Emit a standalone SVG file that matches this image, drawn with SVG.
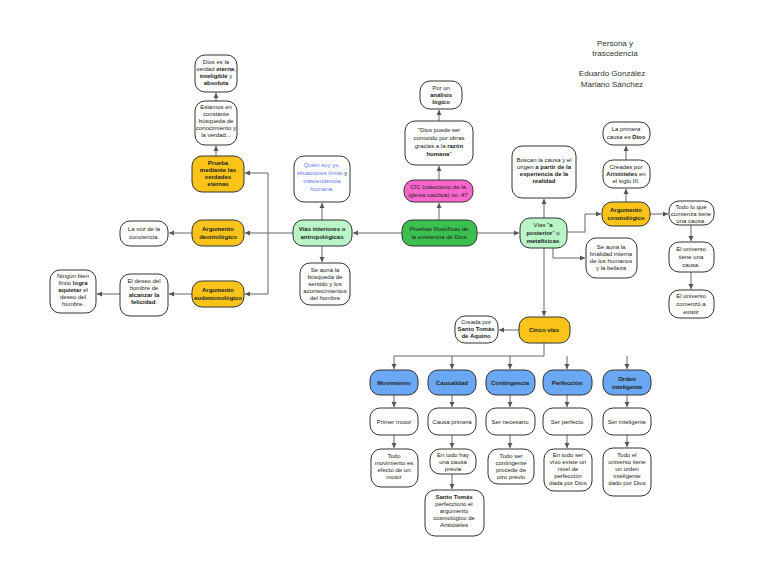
<svg xmlns="http://www.w3.org/2000/svg" width="768" height="585" viewBox="0 0 768 585">
<defs>
<marker id="a" markerWidth="6" markerHeight="6" refX="5" refY="3" orient="auto" markerUnits="userSpaceOnUse"><path d="M0,0.5 L5,3 L0,5.5 z" fill="#555"/></marker>
</defs>
<style>
rect{stroke:#333;stroke-width:1;fill:#fff}
.y{fill:#fcc419}.g{fill:#3bbf4e}.lg{fill:#b9f5c6}.m{fill:#ff66cc}.b{fill:#6aa7f5}
text{font-family:"Liberation Sans",Arial,sans-serif;font-size:6px;fill:#222;text-anchor:middle}
.bd{font-weight:bold}.bl{fill:#5a7cf0}.t{font-size:8px;fill:#333}
#c path{fill:none;stroke:#666;stroke-width:1;marker-end:url(#a)}
</style>
<rect width="768" height="585" style="fill:#fff;stroke:none"/>
<g id="title"><text class="t" x="615" y="46">Persona y</text><text class="t" x="615" y="56">trascedencia</text><text class="t" x="612" y="76">Eduardo González</text><text class="t" x="612" y="87">Mariano Sánchez</text></g>
<g id="c">
<path d="M402,233 H353"/><path d="M477,233 H519"/><path d="M439,220 V203"/><path d="M439,180 V166"/><path d="M439,121 V110"/>
<path d="M322,220 V203"/><path d="M322,246 V262"/><path d="M293,233 H245"/>
<path d="M268,233 V173 H245"/><path d="M268,233 V294 H245"/>
<path d="M216,156 V146"/><path d="M216,101 V93"/><path d="M192,233 H169"/><path d="M192,294 H169"/><path d="M120,294 H97"/>
<path d="M544,218 V199"/><path d="M567,232 H585 V214 H601"/><path d="M553,248 V258 H585"/><path d="M544,248 V316"/>
<path d="M626,202 V189"/><path d="M626,160 V146"/><path d="M650,214 H668"/><path d="M691,225 V241"/><path d="M691,272 V289"/>
<path d="M519,330 H499"/>
<path d="M544,343 V356 H394 V369"/><path d="M452,356 V369"/><path d="M510,356 V369"/><path d="M567,356 V369"/><path d="M627,356 V369"/>
<path d="M394,395 V407"/><path d="M452,395 V407"/><path d="M510,395 V407"/><path d="M567,395 V407"/><path d="M627,395 V407"/>
<path d="M394,435 V448"/><path d="M452,435 V448"/><path d="M510,435 V448"/><path d="M567,435 V448"/><path d="M627,435 V447"/>
<path d="M452,474 V489"/>
</g>
<g id="n1"><rect x="195" y="55" width="42" height="37" rx="10"/><text x="216" y="64">Dios es la</text><text x="216" y="71">verdad <tspan class="bd">eterna</tspan>,</text><text x="216" y="78" class="bd">inteligible <tspan style="font-weight:normal">y</tspan></text><text x="216" y="85" class="bd">absoluta</text></g>
<g id="n2"><rect x="195" y="101" width="42" height="44" rx="10"/><text x="216" y="109">Estamos en</text><text x="216" y="116">constante</text><text x="216" y="123">búsqueda de</text><text x="216" y="130">conocimiento y</text><text x="216" y="137">la verdad...</text></g>
<g id="n3"><rect class="y" x="192" y="156" width="52" height="36" rx="10"/><text class="bd" x="218" y="165">Prueba</text><text class="bd" x="218" y="172">mediante las</text><text class="bd" x="218" y="179">verdades</text><text class="bd" x="218" y="186">eternas</text></g>
<g id="n4"><rect x="120" y="221" width="48" height="25" rx="10"/><text x="144" y="231">La voz de la</text><text x="144" y="239">conciencia.</text></g>
<g id="n5"><rect class="y" x="192" y="220" width="52" height="26" rx="10"/><text class="bd" x="218" y="231">Argumento</text><text class="bd" x="218" y="239">deontológico</text></g>
<g id="n6"><rect x="50" y="270" width="46" height="43" rx="10"/><text x="73" y="278">Ningún bien</text><text x="73" y="285">finito <tspan class="bd">logra</tspan></text><text x="73" y="292"><tspan class="bd">aquietar</tspan> el</text><text x="73" y="299">deseo del</text><text x="73" y="306">hombre.</text></g>
<g id="n7"><rect x="120" y="274" width="48" height="42" rx="10"/><text x="144" y="283">El deseo del</text><text x="144" y="290">hombre de</text><text x="144" y="297" class="bd">alcanzar la</text><text x="144" y="304"><tspan class="bd">felicidad</tspan>.</text></g>
<g id="n8"><rect class="y" x="192" y="281" width="52" height="26" rx="10"/><text class="bd" x="218" y="292">Argumento</text><text class="bd" x="218" y="300">eudemonológico</text></g>
<g id="n9"><rect x="294" y="156" width="56" height="46" rx="10"/><text x="322" y="167" class="bl">Quién soy yo,</text><text x="322" y="175"><tspan class="bl">situaciones límite</tspan> y</text><text x="322" y="183" class="bl">trascendencia</text><text x="322" y="191" class="bl">humana.</text></g>
<g id="n10"><rect class="lg" x="293" y="220" width="59" height="26" rx="10"/><text class="bd" x="322" y="231">Vías interiores o</text><text class="bd" x="322" y="239">antropológicas</text></g>
<g id="n11"><rect x="300" y="263" width="50" height="42" rx="10"/><text x="325" y="272">Se auna la</text><text x="325" y="279">búsqueda de</text><text x="325" y="286">sentido y los</text><text x="325" y="293">acontecimientos</text><text x="325" y="300">del hombre</text></g>
<g id="n12"><rect class="g" x="402" y="220" width="75" height="26" rx="10"/><text x="439" y="231">Pruebas filosóficas de</text><text x="439" y="239">la existencia de Dios</text></g>
<g id="n13"><rect class="m" x="404" y="180" width="69" height="22" rx="10"/><text x="438" y="189">CIC (catecismo de la</text><text x="438" y="197">iglesia católica) no. 47</text></g>
<g id="n14"><rect x="405" y="121" width="68" height="44" rx="10"/><text x="439" y="132">"Dios puede ser</text><text x="439" y="140">conocido por obras</text><text x="439" y="148">gracias a la <tspan class="bd">razón</tspan></text><text x="439" y="156" class="bd">humana<tspan style="font-weight:normal">"</tspan></text></g>
<g id="n15"><rect x="420" y="81" width="42" height="28" rx="10"/><text x="441" y="90">Por un</text><text x="441" y="97" class="bd">análisis</text><text x="441" y="104" class="bd">lógico</text></g>
<g id="n16"><rect class="lg" x="520" y="218" width="47" height="30" rx="10"/><text x="543" y="227">Vías "<tspan class="bd">a</tspan></text><text x="543" y="235"><tspan class="bd">posterior</tspan>" o</text><text x="543" y="243" class="bd">metafísicas</text></g>
<g id="n17"><rect x="512" y="146" width="64" height="52" rx="10"/><text x="544" y="162">Buscan la causa y el</text><text x="544" y="169">origen <tspan class="bd">a partir de la</tspan></text><text x="544" y="176" class="bd">experiencia de la</text><text x="544" y="183" class="bd">realidad</text></g>
<g id="n18"><rect x="586" y="238" width="51" height="40" rx="10"/><text x="611" y="249">Se auna la</text><text x="611" y="256">finalidad interna</text><text x="611" y="263">de los humanos</text><text x="611" y="270">y la belleza</text></g>
<g id="n19"><rect class="y" x="602" y="202" width="48" height="24" rx="10"/><text class="bd" x="626" y="212">Argumento</text><text class="bd" x="626" y="220">cosmológico</text></g>
<g id="n20"><rect x="603" y="160" width="47" height="28" rx="10"/><text x="626" y="169">Creadas por</text><text x="626" y="176"><tspan class="bd">Aristóteles</tspan> en</text><text x="626" y="183">el siglo III.</text></g>
<g id="n21"><rect x="603" y="122" width="47" height="23" rx="10"/><text x="626" y="131">La primera</text><text x="626" y="139">causa es <tspan class="bd">Dios</tspan></text></g>
<g id="n22"><rect x="669" y="201" width="45" height="24" rx="10"/><text x="691" y="209">Todo lo que</text><text x="691" y="216">comienza tiene</text><text x="691" y="223">una causa.</text></g>
<g id="n23"><rect x="669" y="242" width="45" height="30" rx="10"/><text x="691" y="251">El universo</text><text x="691" y="259">tiene una</text><text x="691" y="267">causa.</text></g>
<g id="n24"><rect x="669" y="290" width="45" height="28" rx="10"/><text x="691" y="298">El universo</text><text x="691" y="306">comenzó a</text><text x="691" y="314">existir</text></g>
<g id="n25"><rect class="y" x="519" y="317" width="51" height="26" rx="10"/><text class="bd" x="544" y="332">Cinco vías</text></g>
<g id="n26"><rect x="455" y="316" width="43" height="27" rx="10"/><text x="476" y="324">Creada por</text><text x="476" y="331" class="bd">Santo Tomás</text><text x="476" y="338" class="bd">de Aquino</text></g>
<g id="n27"><rect class="b" x="370" y="370" width="48" height="25" rx="10"/><text class="bd" x="394" y="385">Movimiento</text></g>
<g id="n28"><rect class="b" x="428" y="370" width="48" height="25" rx="10"/><text class="bd" x="452" y="385">Causalidad</text></g>
<g id="n29"><rect class="b" x="486" y="370" width="49" height="25" rx="10"/><text class="bd" x="510" y="385">Contingencia</text></g>
<g id="n30"><rect class="b" x="543" y="370" width="49" height="25" rx="10"/><text class="bd" x="567" y="385">Perfección</text></g>
<g id="n31"><rect class="b" x="603" y="370" width="48" height="25" rx="10"/><text class="bd" x="627" y="381">Orden</text><text class="bd" x="627" y="389">inteligente</text></g>
<g id="n32"><rect x="370" y="408" width="48" height="27" rx="10"/><text x="394" y="424">Primer motor</text></g>
<g id="n33"><rect x="428" y="408" width="48" height="27" rx="10"/><text x="452" y="424">Causa primera</text></g>
<g id="n34"><rect x="486" y="408" width="49" height="27" rx="10"/><text x="510" y="424">Ser necesario</text></g>
<g id="n35"><rect x="543" y="408" width="49" height="27" rx="10"/><text x="567" y="424">Ser perfecto</text></g>
<g id="n36"><rect x="603" y="408" width="48" height="27" rx="10"/><text x="627" y="424">Ser inteligente</text></g>
<g id="n37"><rect x="371" y="449" width="47" height="38" rx="10"/><text x="394" y="458">Todo</text><text x="394" y="465">movimiento es</text><text x="394" y="472">efecto de un</text><text x="394" y="479">motor</text></g>
<g id="n38"><rect x="430" y="449" width="46" height="25" rx="10"/><text x="453" y="457">En todo hay</text><text x="453" y="464">una causa</text><text x="453" y="471">previa</text></g>
<g id="n39"><rect x="488" y="449" width="46" height="35" rx="10"/><text x="511" y="458">Todo ser</text><text x="511" y="465">contingente</text><text x="511" y="472">procede de</text><text x="511" y="479">otro previo</text></g>
<g id="n40"><rect x="544" y="449" width="48" height="42" rx="10"/><text x="568" y="457">En todo ser</text><text x="568" y="464">vivo existe un</text><text x="568" y="471">nivel de</text><text x="568" y="478">perfección</text><text x="568" y="485">dada por Dios</text></g>
<g id="n41"><rect x="603" y="448" width="48" height="48" rx="10"/><text x="627" y="457">Todo el</text><text x="627" y="464">universo tiene</text><text x="627" y="471">un orden</text><text x="627" y="478">inteligente</text><text x="627" y="485">dado por Dios</text></g>
<g id="n42"><rect x="425" y="490" width="59" height="46" rx="10"/><text x="454" y="499" class="bd">Santo Tomás</text><text x="454" y="506">perfeccionó el</text><text x="454" y="513">argumento</text><text x="454" y="520">cosmológico de</text><text x="454" y="527">Aristóteles</text></g>
</svg>
